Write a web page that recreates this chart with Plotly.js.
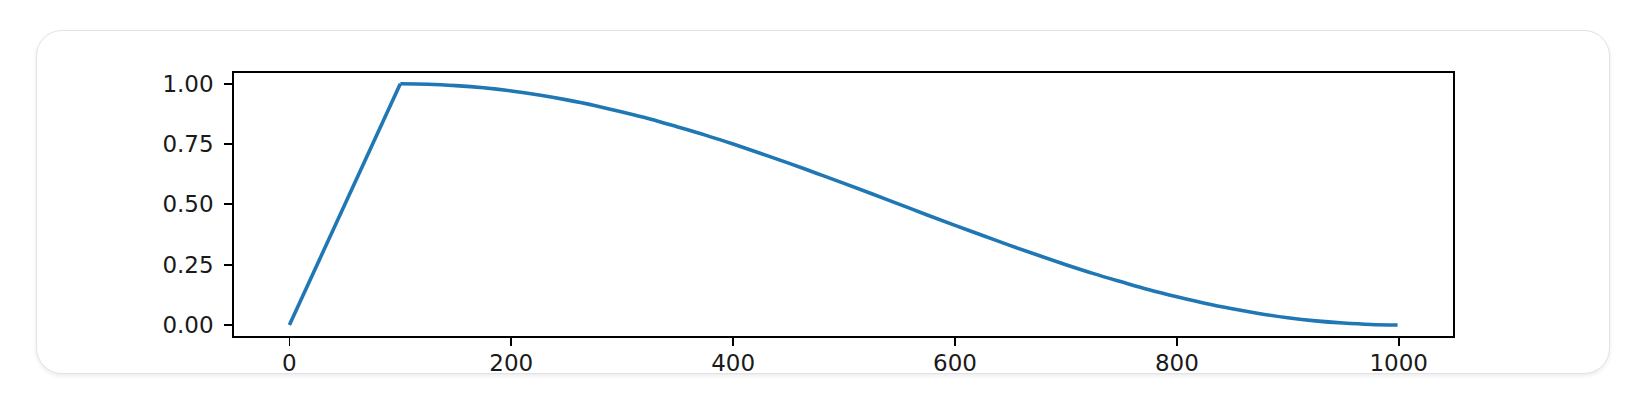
<!DOCTYPE html>
<html>
<head>
<meta charset="utf-8">
<script src="https://cdn.plot.ly/plotly-3.0.1.min.js"></script>
<style>
  html, body { margin: 0; padding: 0; background: #ffffff; }
  body { width: 1650px; height: 418px; position: relative; overflow: hidden; }
  #card {
    position: absolute; left: 36px; top: 30px; width: 1572px; height: 342px;
    border: 1px solid #e2e2e8; border-radius: 26px; background: #ffffff;
    box-shadow: 0 2px 4px rgba(0,0,0,0.08);
  }
  #chart { position: absolute; left: 0; top: 0; width: 1650px; height: 418px; }
</style>
</head>
<body>
<div id="card"></div>
<div id="chart"></div>
<script>
// Learning-rate schedule: linear warm-up, then smooth decay
const warmupSteps = [0, 100];
const warmupValues = [0.000, 1.000];
const decaySteps = [100, 125, 150, 175, 200, 225, 250, 275, 300, 325, 350, 375, 400, 425, 450, 475, 500,
  525, 550, 575, 600, 625, 650, 675, 700, 725, 750, 775, 800, 825, 850, 875, 900, 925, 950, 975, 999];
const decayValues = [1.000, 0.998, 0.992, 0.983, 0.970, 0.953, 0.933, 0.910, 0.883, 0.854, 0.821, 0.787, 0.750,
  0.711, 0.671, 0.629, 0.587, 0.544, 0.500, 0.456, 0.413, 0.371, 0.329, 0.289, 0.250, 0.213, 0.179,
  0.146, 0.117, 0.090, 0.067, 0.047, 0.030, 0.017, 0.008, 0.002, 0.000];

const xTickVals = [0, 200, 400, 600, 800, 1000];
const xTickText = ["0", "200", "400", "600", "800", "1000"];
const yTickVals = [0, 0.25, 0.5, 0.75, 1.0];
const yTickText = ["0.00", "0.25", "0.50", "0.75", "1.00"];

const axisCommon = {
  showline: true, mirror: true, linecolor: '#000000', linewidth: 1.8,
  ticks: 'outside', ticklen: 8, tickwidth: 1.8, tickcolor: '#000000',
  showgrid: false, zeroline: false, tickmode: 'array',
  tickfont: { family: 'DejaVu Sans', size: 23, color: '#1a1a1a' }
};

const lineStyle = { color: '#1f77b4', width: 3.6 };

const traces = [
  { x: warmupSteps, y: warmupValues, type: 'scatter', mode: 'lines',
    line: Object.assign({}, lineStyle), hoverinfo: 'skip' },
  { x: decaySteps, y: decayValues, type: 'scatter', mode: 'lines',
    line: Object.assign({}, lineStyle, { shape: 'spline', smoothing: 1 }), hoverinfo: 'skip' }
];

const layout = {
  width: 1650, height: 418,
  margin: { l: 234, r: 197, t: 73, b: 82, pad: 0 },
  paper_bgcolor: 'rgba(0,0,0,0)', plot_bgcolor: 'rgba(0,0,0,0)',
  showlegend: false,
  xaxis: Object.assign({}, axisCommon, {
    range: [-49.95, 1048.95], tickvals: xTickVals, ticktext: xTickText, ticklabelstandoff: -2
  }),
  yaxis: Object.assign({}, axisCommon, {
    range: [-0.0456, 1.0444], tickvals: yTickVals, ticktext: yTickText, ticklabelstandoff: 6
  })
};

Plotly.newPlot('chart', traces, layout, { staticPlot: true, displayModeBar: false });
</script>
</body>
</html>
